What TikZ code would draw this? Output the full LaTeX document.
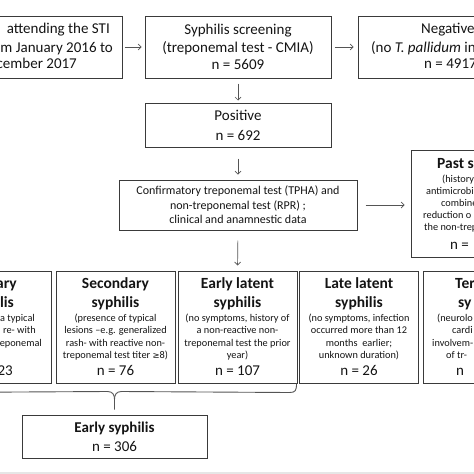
\documentclass[tikz,border=0pt]{standalone}
\usepackage{fontspec}
\setmainfont{Carlito}
\newfontfamily\symf{DejaVu Sans}
\usetikzlibrary{arrows.meta,calc}
\definecolor{txt}{HTML}{141414}
\definecolor{bord}{HTML}{3A3A3A}
\definecolor{arr}{HTML}{555555}
\definecolor{strip}{HTML}{E6E6E6}
\begin{document}
\begin{tikzpicture}[x=1pt,y=-1pt,
 box/.style={draw=bord,line width=1pt,inner sep=0pt,text=txt},
 big/.style={font=\fontsize{15}{17.5}\selectfont,text=txt},
 frag/.style={font=\fontsize{15}{17.5}\selectfont,text=txt,inner sep=0pt},
 ttl/.style={font=\fontsize{15.5}{19}\selectfont\bfseries,text=txt,inner sep=0pt,anchor=base},
 sm/.style={font=\fontsize{10.3}{12.3}\selectfont,text=txt,inner sep=0pt,anchor=base},
 num/.style={font=\fontsize{15}{18}\selectfont,text=txt,inner sep=0pt,anchor=base},
 conn/.style={draw=arr,line width=0.7pt,-{Straight Barb[length=3pt,width=6pt]}},
 bline/.style={draw=arr,line width=0.9pt},
]
\useasboundingbox (0,0) rectangle (474,474);
\clip (0,0) rectangle (474,474);
\fill[strip] (0,471.5) rectangle (474,474);

% top row
\node[box,minimum width=186pt,minimum height=62pt] (pat) at (29,47) {};
\node[box,big,align=center,minimum width=186pt,minimum height=62pt] (scr) at (238,47) {Syphilis screening\\(treponemal test - CMIA)\\n = 5609};
\node[box,minimum width=186pt,minimum height=62pt] (neg) at (451,47) {};

\node[frag,anchor=base east] (pat1) at (110,33) {attending the STI};
\node[frag,anchor=base east] (pat2) at (113,52) {m January 2016 to};
\node[frag,anchor=base east] (pat3) at (77,68) {cember 2017};

\node[frag,anchor=base west] (neg1) at (421,33) {Negative};
\node[frag,anchor=base west] (neg2) at (371,52) {(no \textit{T. pallidum} in};
\node[frag,anchor=base west] (neg3) at (424,68) {n = 4917};

% middle
\node[box,align=center,minimum width=186pt,minimum height=44pt,font=\fontsize{15}{20}\selectfont] (pos) at (238,125) {Positive\\n = 692};
\node[box,align=center,minimum width=238pt,minimum height=50pt,font=\fontsize{12}{14.5}\selectfont] (conf) at (238,205) {Confirmatory treponemal test (TPHA) and\\non-treponemal test (RPR) ;\\clinical and anamnestic data};
\node[box,minimum width=140pt,minimum height=107pt] (past) at (481,203.5) {};

\node[ttl,anchor=base west] (past1) at (437,168) {Past s};
\node[sm,anchor=base west] (past2) at (442,182.5) {(history c};
\node[sm,anchor=base west] (past3) at (426,194.5) {antimicrobi};
\node[sm,anchor=base west] (past4) at (441,206.5) {combine};
\node[sm,anchor=base west] (past5) at (423,218.5) {reduction o};
\node[sm,anchor=base west] (past6) at (424,230.5) {the non-trep};
\node[num,anchor=base west] (past7) at (450,249) {n =};

% bottom row
\node[box,minimum width=119pt,minimum height=112pt] (prim) at (-8.5,327) {};
\node[box,minimum width=119pt,minimum height=112pt] (sec) at (115.5,327) {};
\node[box,minimum width=119pt,minimum height=112pt] (elat) at (237.5,327) {};
\node[box,minimum width=119pt,minimum height=112pt] (llat) at (359,327) {};
\node[box,minimum width=119pt,minimum height=112pt] (tert) at (482.5,327) {};

\node[ttl,anchor=base east] (pr1) at (17,288.5) {ary};
\node[ttl,anchor=base east] (pr2) at (14,307.5) {ilis};
\node[sm,anchor=base east] (pr3) at (35,321.5) {a typical};
\node[sm,anchor=base east] (pr4) at (36,333.5) {re- with};
\node[sm,anchor=base east] (pr5) at (42,346.5) {eponemal};
\node[num,anchor=base east] (pr6) at (13,375) {23};

\node[ttl] (se1) at (115.5,288.5) {Secondary};
\node[ttl] (se2) at (115.5,307.5) {syphilis};
\node[sm] (se3) at (115.5,321.5) {(presence of typical};
\node[sm] (se4) at (115.5,333.5) {lesions –e.g. generalized};
\node[sm] (se5) at (115.5,346.5) {rash- with reactive non-};
\node[sm] (se6) at (115.5,358.5) {treponemal test titer {\symf\fontsize{8.5}{10}\selectfont ≥}8)};
\node[num] (se7) at (115.5,375) {n = 76};

\node[ttl] (el1) at (237.5,288.5) {Early latent};
\node[ttl] (el2) at (237.5,307.5) {syphilis};
\node[sm] (el3) at (237.5,321.5) {(no symptoms, history of};
\node[sm] (el4) at (237.5,333.5) {a non-reactive non-};
\node[sm] (el5) at (237.5,346.5) {treponemal test the prior};
\node[sm] (el6) at (237.5,358.5) {year)};
\node[num] (el7) at (237.5,375) {n = 107};

\node[ttl] (ll1) at (359,288.5) {Late latent};
\node[ttl] (ll2) at (359,307.5) {syphilis};
\node[sm] (ll3) at (359,321.5) {(no symptoms, infection};
\node[sm] (ll4) at (359,333.5) {occurred more than 12};
\node[sm] (ll5) at (359,346.5) {months\ \ earlier;};
\node[sm] (ll6) at (359,358.5) {unknown duration)};
\node[num] (ll7) at (359,375) {n = 26};

\node[ttl,anchor=base west] (te1) at (455,288.5) {Ter};
\node[ttl,anchor=base west] (te2) at (458,307.5) {sy};
\node[sm,anchor=base west] (te3) at (437,321.5) {(neurolo};
\node[sm,anchor=base west] (te4) at (452,333.5) {cardi};
\node[sm,anchor=base west] (te5) at (432,346.5) {involvem-};
\node[sm,anchor=base west] (te6) at (446,358.5) {of tr-};
\node[num,anchor=base west] (te7) at (456,375) {n};

% early syphilis
\node[box,align=center,minimum width=185pt,minimum height=43pt,font=\fontsize{15}{19}\selectfont] (early) at (114.5,436.5) {{\bfseries Early syphilis}\\n = 306};

% connectors
\draw[conn,shorten <=2pt,shorten >=3pt] (pat.east) -- (scr.west);
\draw[conn,shorten <=3pt,shorten >=4pt] (scr.east) -- (neg.west);
\draw[conn,shorten <=5pt,shorten >=2pt] (scr.south) -- (pos.north);
\draw[conn,shorten <=11pt,shorten >=5pt] (pos.south) -- (conf.north);
\draw[conn,shorten <=8pt,shorten >=6pt] (conf.east) -- (conf.east -| past.west);
\draw[conn,shorten <=10pt,shorten >=5pt] (conf.south) -- (elat.north);

% brace
\coordinate (bR) at ($(elat.south east)+(-1,0)$);
\coordinate (bM) at ($(early.north)+(0,-5)$);
\coordinate (bL) at ($(prim.south west)+(0,9)$);
\draw[bline] (bR) .. controls +(0,7) and +(6,0) .. ($(bR)+(-7,9)$) -- ($(bM)+(7,-18)$) .. controls +(-5,0) and +(0,-5) .. ($(bM)+(0,-10)$) -- (bM);
\draw[bline] ($(bM)+(0,-10)$) .. controls +(0,-5) and +(5,0) .. ($(bM)+(-7,-18)$) -- (bL);
\end{tikzpicture}
\end{document}
